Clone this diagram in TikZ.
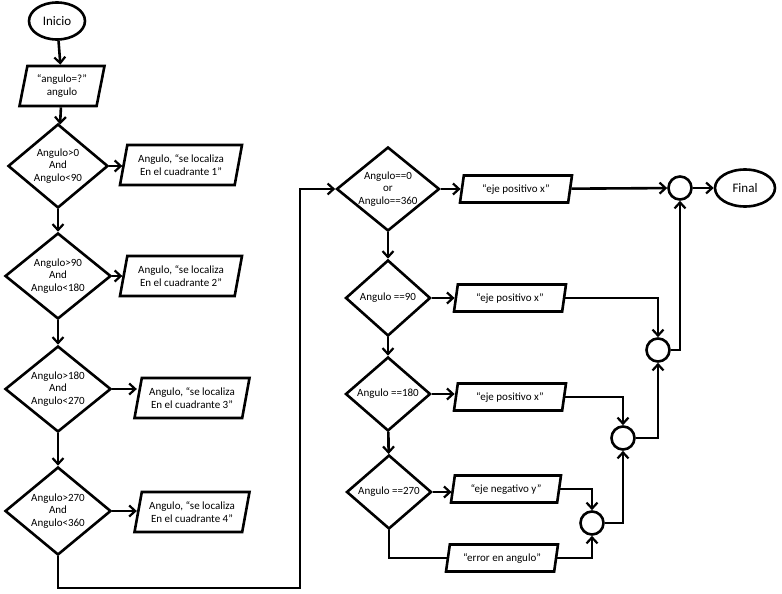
\documentclass[tikz,border=0pt]{standalone}
\usepackage{fontspec}
\setmainfont{Carlito}
\usetikzlibrary{shapes.geometric,arrows.meta}
\begin{document}
\begin{tikzpicture}[x=1pt,y=-1pt,line width=2.6pt,font=\fontsize{11}{12.5}\selectfont,
 every path/.style={line join=miter},
 arr/.style={-{Straight Barb[length=6pt,width=11pt,line width=2.2pt]}},
 term/.style={ellipse,draw,minimum width=#1,minimum height=37pt,inner sep=0pt,font=\fontsize{13}{15}\selectfont},
 io/.style={trapezium,trapezium left angle=72,trapezium right angle=108,draw,align=center,inner sep=1pt,minimum height=#1,trapezium stretches body},
 dec/.style n args={2}{diamond,draw,align=center,minimum width=#1,minimum height=#2,inner sep=0pt,aspect=1.2},
 jn/.style={circle,draw,minimum size=23pt,inner sep=0pt}]
\useasboundingbox (0,0) rectangle (782,594);
\node[term=56pt] (ini) at (57,21) {Inicio};
\node[io=40pt,minimum width=85pt] (in) at (62,86) {“angulo=?”\\angulo};
\node[dec={100pt}{84pt}] (d1) at (58,166) {Angulo>0\\And\\Angulo<90};
\node[dec={106pt}{86pt}] (d2) at (58,276) {Angulo>90\\And\\Angulo<180};
\node[dec={106pt}{86pt}] (d3) at (58,389) {Angulo>180\\And\\Angulo<270};
\node[dec={106pt}{88pt}] (d4) at (58,511) {Angulo>270\\And\\Angulo<360};
\node[io=40pt,minimum width=122pt] (o1) at (181,165) {Angulo, “se localiza\\En el cuadrante 1”};
\node[io=40pt,minimum width=122pt] (o2) at (181,276) {Angulo, “se localiza\\En el cuadrante 2”};
\node[io=40pt,minimum width=115pt] (o3) at (192,398) {Angulo, “se localiza\\En el cuadrante 3”};
\node[io=40pt,minimum width=115pt] (o4) at (192,512) {Angulo, “se localiza\\En el cuadrante 4”};
\node[dec={103pt}{84pt}] (d5) at (388,189) {Angulo==0\\or\\Angulo==360};
\node[dec={85pt}{76pt}] (d6) at (388,298) {Angulo ==90};
\node[dec={85pt}{74pt}] (d7) at (388,394) {Angulo ==180};
\node[dec={85pt}{74pt}] (d8) at (389,492) {Angulo ==270};
\node[io=27pt,minimum width=112pt] (o5) at (516,189) {“eje positivo x”};
\node[io=27pt,minimum width=112pt] (o6) at (510,298) {“eje positivo x”};
\node[io=27pt,minimum width=112pt] (o7) at (510,397) {“eje positivo x”};
\node[io=27pt,minimum width=110pt] (o8) at (506,489) {“eje negativo y”};
\node[io=27pt,minimum width=112pt] (err) at (502,558) {“error en angulo”};
\node[jn] (c1) at (680,188) {};
\node[jn] (c2) at (658,350) {};
\node[jn] (c3) at (623,438) {};
\node[jn] (c4) at (592,523) {};
\node[term=60pt] (fin) at (745,188) {Final};
\draw[arr] (ini) -- (in);
\draw[arr] (in) -- (d1);
\draw[arr] (d1) -- (d2);
\draw[arr] (d2) -- (d3);
\draw[arr] (d3) -- (d4);
\draw[arr] (d1) -- (o1.west|-d1);
\draw[arr] (d2) -- (o2.west|-d2);
\draw[arr] (d3) -- (o3.west|-d3);
\draw[arr] (d4) -- (o4.west|-d4);
\coordinate (b1) at (58,588);
\coordinate (b2) at (300,588);
\draw[arr] (d4.south) -- (b1) -- (b2) -- (b2|-d5) -- (d5.west);
\draw[arr] (d5) -- (d6);
\draw[arr] (d6) -- (d7);
\draw[arr] (d7) -- (d8);
\draw[arr] (d5) -- (o5.west|-d5);
\draw[arr] (d6) -- (o6.west|-d6);
\draw[arr] (d7) -- (o7.west|-d7);
\draw[arr] (d8) -- (o8.west|-d8);
\draw[arr] (o5) -- (c1);
\draw[arr] (c1) -- (fin);
\draw[arr] (o6.east) -| (c2.north);
\draw[arr] (o7.east) -| (c3.north);
\draw[arr] (o8.east) -| (c4.north);
\draw (d8.south) |- (err.west);
\draw[arr] (err.east) -| (c4.south);
\draw[arr] (c4.east) -| (c3.south);
\draw[arr] (c3.east) -| (c2.south);
\draw[arr] (c2.east) -| (c1.south);
\end{tikzpicture}
\end{document}
